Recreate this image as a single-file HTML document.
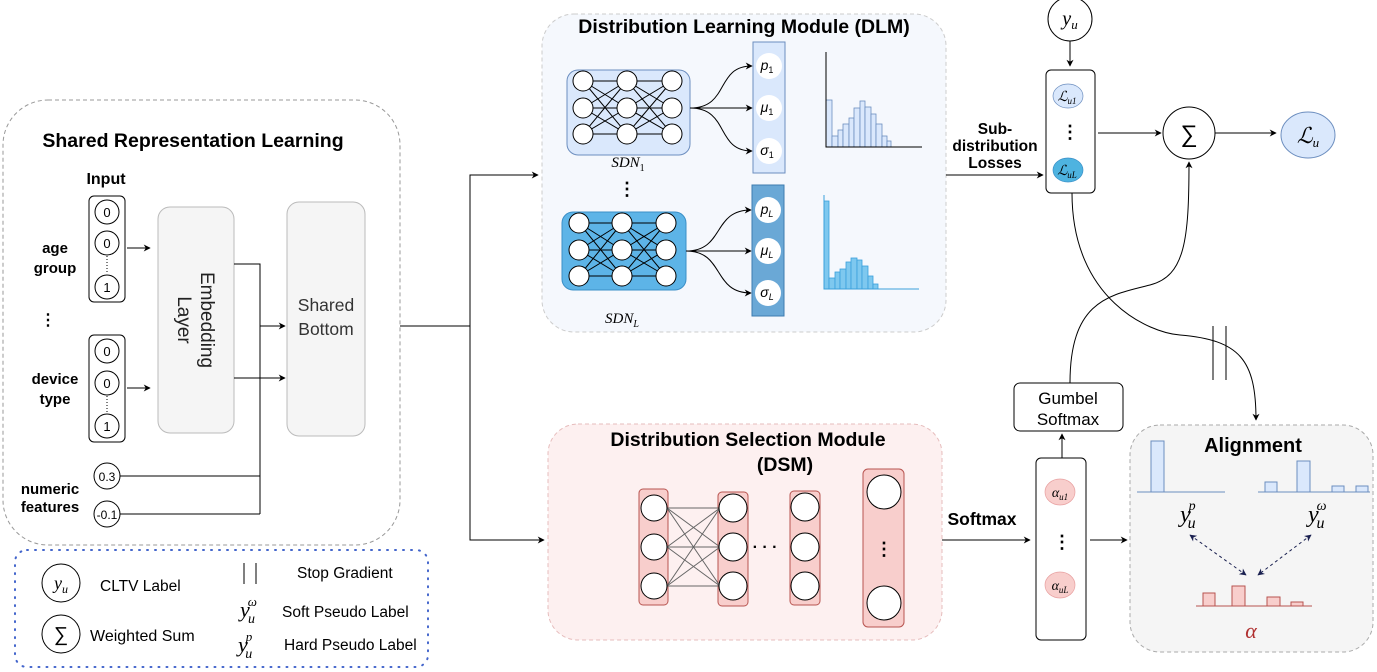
<!DOCTYPE html>
<html><head><meta charset="utf-8"><style>
html,body{margin:0;padding:0;background:#fff}
svg{display:block}
text{font-family:"Liberation Sans",sans-serif}
.b{font-weight:bold}
.m{font-family:"Liberation Serif",serif;font-style:italic}
</style></head><body>
<svg width="1377" height="672" viewBox="0 0 1377 672" xmlns="http://www.w3.org/2000/svg">
<defs>
<marker id="a" viewBox="0 0 10 10" refX="9" refY="5" markerWidth="7" markerHeight="7" orient="auto"><path d="M0,0 L10,5 L0,10 L3,5z" fill="#000"/></marker>
<marker id="d" viewBox="0 0 10 10" refX="9" refY="5" markerWidth="7" markerHeight="7" orient="auto-start-reverse"><path d="M0,0 L10,5 L0,10 L3,5z" fill="#1a2050"/></marker>
</defs>

<!-- Shared Representation -->
<rect x="3" y="100" width="397" height="445" rx="45" fill="#fff" stroke="#999" stroke-dasharray="4,3"/>
<text x="193" y="147" font-size="19.5" class="b" text-anchor="middle">Shared Representation Learning</text>
<text x="106" y="184" font-size="16" class="b" text-anchor="middle">Input</text>
<rect x="89" y="196" width="36" height="106" rx="5" fill="#fff" stroke="#000"/>
<g fill="#fff" stroke="#000"><circle cx="107" cy="212" r="12"/><circle cx="107" cy="243" r="12"/><circle cx="107" cy="287" r="12"/></g>
<line x1="107" y1="256" x2="107" y2="274" stroke="#000" stroke-dasharray="1,2"/>
<g font-size="13" text-anchor="middle"><text x="107" y="217">0</text><text x="107" y="248">0</text><text x="107" y="292">1</text></g>
<text x="55" y="253" font-size="15" class="b" text-anchor="middle">age</text>
<text x="55" y="273" font-size="15" class="b" text-anchor="middle">group</text>
<text x="48" y="325" font-size="16" class="b" text-anchor="middle">⋮</text>
<rect x="89" y="335" width="36" height="107" rx="5" fill="#fff" stroke="#000"/>
<g fill="#fff" stroke="#000"><circle cx="107" cy="351" r="12"/><circle cx="107" cy="383" r="12"/><circle cx="107" cy="426" r="12"/></g>
<line x1="107" y1="396" x2="107" y2="413" stroke="#000" stroke-dasharray="1,2"/>
<g font-size="13" text-anchor="middle"><text x="107" y="356">0</text><text x="107" y="388">0</text><text x="107" y="431">1</text></g>
<text x="55" y="384" font-size="15" class="b" text-anchor="middle">device</text>
<text x="55" y="404" font-size="15" class="b" text-anchor="middle">type</text>
<line x1="127" y1="248" x2="150" y2="248" stroke="#000" marker-end="url(#a)"/>
<line x1="127" y1="388" x2="150" y2="388" stroke="#000" marker-end="url(#a)"/>
<rect x="158" y="207" width="76" height="226" rx="12" fill="#f5f5f5" stroke="#bbb"/>
<text transform="translate(196,320) rotate(90)" font-size="19" text-anchor="middle" fill="#222"><tspan x="0" y="-5">Embedding</tspan><tspan x="0" y="18">Layer</tspan></text>
<rect x="287" y="202" width="78" height="234" rx="12" fill="#f5f5f5" stroke="#bbb"/>
<text x="326" y="311" font-size="17.5" text-anchor="middle" fill="#333">Shared</text>
<text x="326" y="335" font-size="17.5" text-anchor="middle" fill="#333">Bottom</text>
<polyline points="234,264 260,264 260,514" fill="none" stroke="#000"/>
<line x1="260" y1="326" x2="285" y2="326" stroke="#000" marker-end="url(#a)"/>
<line x1="234" y1="378" x2="285" y2="378" stroke="#000" marker-end="url(#a)"/>
<g fill="#fff" stroke="#000"><circle cx="107" cy="476" r="13"/><circle cx="107" cy="514" r="13"/></g>
<g font-size="12" text-anchor="middle"><text x="107" y="481">0.3</text><text x="107" y="519">-0.1</text></g>
<line x1="120" y1="476" x2="260" y2="476" stroke="#000"/>
<line x1="120" y1="514" x2="260" y2="514" stroke="#000"/>
<text x="50" y="494" font-size="15" class="b" text-anchor="middle">numeric</text>
<text x="50" y="512" font-size="15" class="b" text-anchor="middle">features</text>
<polyline points="400,326 470,326" fill="none" stroke="#000"/>
<polyline points="470,326 470,175 538,175" fill="none" stroke="#000" marker-end="url(#a)"/>
<polyline points="470,326 470,540 544,540" fill="none" stroke="#000" marker-end="url(#a)"/>

<!-- Legend -->
<rect x="15" y="550" width="413" height="117" rx="12" fill="#fff" stroke="#4466cc" stroke-width="2" stroke-dasharray="1,7" stroke-linecap="round"/>
<circle cx="61" cy="583" r="19" fill="#fff" stroke="#000"/>
<text x="61" y="589" font-size="18" class="m" text-anchor="middle">y<tspan font-size="12" dy="4">u</tspan></text>
<text x="100" y="591" font-size="15.5">CLTV Label</text>
<circle cx="61" cy="634" r="19" fill="#fff" stroke="#000"/>
<text x="61" y="641" font-size="20" text-anchor="middle">∑</text>
<text x="90" y="641" font-size="16">Weighted Sum</text>
<line x1="244" y1="563" x2="244" y2="584" stroke="#000"/><line x1="256" y1="563" x2="256" y2="584" stroke="#000"/>
<text x="297" y="578" font-size="15.5">Stop Gradient</text>
<text x="240" y="617" font-size="22" class="m">y<tspan font-size="13" dx="-2" dy="-11">ω</tspan><tspan font-size="14" dx="-9" dy="17">u</tspan></text>
<text x="282" y="617" font-size="15.5">Soft Pseudo Label</text>
<text x="238" y="652" font-size="22" class="m">y<tspan font-size="13" dx="-2" dy="-11">p</tspan><tspan font-size="14" dx="-7" dy="17">u</tspan></text>
<text x="284" y="650" font-size="15.5">Hard Pseudo Label</text>

<!-- DLM -->
<rect x="542" y="14" width="404" height="318" rx="32" fill="#f5f8fd" stroke="#ccc" stroke-dasharray="4,3"/>
<text x="744" y="33" font-size="19.5" class="b" text-anchor="middle">Distribution Learning Module (DLM)</text>
<rect x="567" y="70" width="123" height="85" rx="11" fill="#dae8fc" stroke="#6c8ebf"/>
<g stroke="#000" stroke-width="1">
<path d="M583,81 L627,81 M583,81 L627,108 M583,81 L627,134 M583,108 L627,81 M583,108 L627,108 M583,108 L627,134 M583,134 L627,81 M583,134 L627,108 M583,134 L627,134"/>
<path d="M627,81 L672,81 M627,81 L672,108 M627,81 L672,134 M627,108 L672,81 M627,108 L672,108 M627,108 L672,134 M627,134 L672,81 M627,134 L672,108 M627,134 L672,134"/>
</g>
<g fill="#fff" stroke="#000"><circle cx="583" cy="81" r="10"/><circle cx="583" cy="108" r="10"/><circle cx="583" cy="134" r="10"/><circle cx="627" cy="81" r="10"/><circle cx="627" cy="108" r="10"/><circle cx="627" cy="134" r="10"/><circle cx="672" cy="81" r="10"/><circle cx="672" cy="108" r="10"/><circle cx="672" cy="134" r="10"/></g>
<text x="628" y="167" font-size="15" class="m" text-anchor="middle">SDN<tspan font-size="10" dy="4" font-style="normal">1</tspan></text>
<text x="627" y="195" font-size="18" class="b" text-anchor="middle">⋮</text>
<rect x="753" y="42" width="32" height="131" fill="#dae8fc" stroke="#6c8ebf"/>
<g fill="#fff"><circle cx="769" cy="66" r="13"/><circle cx="769" cy="108" r="13"/><circle cx="769" cy="151" r="13"/></g>
<g font-size="14" class="m" text-anchor="middle"><text x="767" y="70">p<tspan font-size="9" dy="3" font-style="normal">1</tspan></text><text x="767" y="112">μ<tspan font-size="9" dy="3" font-style="normal">1</tspan></text><text x="767" y="155">σ<tspan font-size="9" dy="3" font-style="normal">1</tspan></text></g>
<g fill="none" stroke="#000"><path d="M690,108 C730,108 715,66 752,66" marker-end="url(#a)"/><path d="M690,108 L752,108" marker-end="url(#a)"/><path d="M690,108 C730,108 715,151 752,151" marker-end="url(#a)"/></g>
<g fill="#dae8fc" stroke="#6c8ebf" stroke-width="0.8">
<rect x="826" y="100" width="6" height="47"/><rect x="832" y="136" width="6" height="11"/><rect x="838" y="130" width="5" height="17"/><rect x="843" y="124" width="6" height="23"/><rect x="849" y="118" width="5" height="29"/><rect x="854" y="108" width="6" height="39"/><rect x="860" y="101" width="5" height="46"/><rect x="865" y="107" width="6" height="40"/><rect x="871" y="114" width="5" height="33"/><rect x="876" y="124" width="6" height="23"/><rect x="882" y="136" width="5" height="11"/><rect x="887" y="141" width="4" height="6"/>
</g>
<polyline points="826,52 826,147 922,147" fill="none" stroke="#000"/>
<rect x="562" y="212" width="124" height="78" rx="11" fill="#5db4e7" stroke="#3a8fc7"/>
<g stroke="#000" stroke-width="1">
<path d="M579,223 L622,223 M579,223 L622,250 M579,223 L622,276 M579,250 L622,223 M579,250 L622,250 M579,250 L622,276 M579,276 L622,223 M579,276 L622,250 M579,276 L622,276"/>
<path d="M622,223 L666,223 M622,223 L666,250 M622,223 L666,276 M622,250 L666,223 M622,250 L666,250 M622,250 L666,276 M622,276 L666,223 M622,276 L666,250 M622,276 L666,276"/>
</g>
<g fill="#fff" stroke="#000"><circle cx="579" cy="223" r="10"/><circle cx="579" cy="250" r="10"/><circle cx="579" cy="276" r="10"/><circle cx="622" cy="223" r="10"/><circle cx="622" cy="250" r="10"/><circle cx="622" cy="276" r="10"/><circle cx="666" cy="223" r="10"/><circle cx="666" cy="250" r="10"/><circle cx="666" cy="276" r="10"/></g>
<text x="622" y="323" font-size="15" class="m" text-anchor="middle">SDN<tspan font-size="10" dy="4">L</tspan></text>
<rect x="752" y="185" width="32" height="131" fill="#6aa8d6" stroke="#3d7cb0"/>
<g fill="#fff"><circle cx="768" cy="210" r="13"/><circle cx="768" cy="251" r="13"/><circle cx="768" cy="293" r="13"/></g>
<g font-size="14" class="m" text-anchor="middle"><text x="767" y="214">p<tspan font-size="9" dy="3">L</tspan></text><text x="767" y="255">μ<tspan font-size="9" dy="3">L</tspan></text><text x="767" y="297">σ<tspan font-size="9" dy="3">L</tspan></text></g>
<g fill="none" stroke="#000"><path d="M686,251 C725,251 712,210 751,210" marker-end="url(#a)"/><path d="M686,251 L751,251" marker-end="url(#a)"/><path d="M686,251 C725,251 712,293 751,293" marker-end="url(#a)"/></g>
<g fill="#7ec8ef" stroke="#3aa0db" stroke-width="0.8">
<rect x="824" y="201" width="5" height="88"/><rect x="829" y="278" width="6" height="11"/><rect x="835" y="272" width="5" height="17"/><rect x="840" y="269" width="6" height="20"/><rect x="846" y="262" width="5" height="27"/><rect x="851" y="258" width="6" height="31"/><rect x="857" y="260" width="5" height="29"/><rect x="862" y="266" width="6" height="23"/><rect x="868" y="276" width="5" height="13"/><rect x="873" y="284" width="5" height="5"/>
</g>
<polyline points="824,195 824,289 919,289" fill="none" stroke="#3aa0db"/>

<!-- Loss column -->
<text x="995" y="134" font-size="15.5" class="b" text-anchor="middle">Sub-</text>
<text x="995" y="151" font-size="15.5" class="b" text-anchor="middle">distribution</text>
<text x="995" y="168" font-size="15.5" class="b" text-anchor="middle">Losses</text>
<line x1="946" y1="175" x2="1043" y2="175" stroke="#000" marker-end="url(#a)"/>
<circle cx="1070" cy="19" r="22" fill="#fff" stroke="#000"/>
<text x="1070" y="25" font-size="20" class="m" text-anchor="middle">y<tspan font-size="13" dy="4">u</tspan></text>
<line x1="1070" y1="41" x2="1070" y2="66" stroke="#000" marker-end="url(#a)"/>
<rect x="1046" y="70" width="49" height="123" rx="5" fill="#fff" stroke="#000"/>
<ellipse cx="1068" cy="96" rx="15" ry="12" fill="#dae8fc" stroke="#6c8ebf" stroke-width="0.7"/>
<text x="1067" y="101" font-size="14" class="m" text-anchor="middle">ℒ<tspan font-size="9" dy="3">u1</tspan></text>
<text x="1070" y="138" font-size="18" class="b" text-anchor="middle">⋮</text>
<ellipse cx="1068" cy="170" rx="15" ry="12" fill="#4eb3e0" stroke="#3a8fc7" stroke-width="0.7"/>
<text x="1067" y="175" font-size="14" class="m" text-anchor="middle">ℒ<tspan font-size="9" dy="3">uL</tspan></text>
<line x1="1098" y1="133" x2="1161" y2="133" stroke="#000" marker-end="url(#a)"/>
<circle cx="1189" cy="133" r="26" fill="#fff" stroke="#000"/>
<text x="1189" y="142" font-size="24" text-anchor="middle">∑</text>
<line x1="1215" y1="133" x2="1276" y2="133" stroke="#000" marker-end="url(#a)"/>
<ellipse cx="1308" cy="135" rx="27" ry="23" fill="#dae8fc" stroke="#6c8ebf"/>
<text x="1308" y="143" font-size="22" class="m" text-anchor="middle">ℒ<tspan font-size="13" dy="4">u</tspan></text>
<path d="M1072,193 C1072,300 1150,333 1180,335 C1240,340 1256,360 1256,420" fill="none" stroke="#000" marker-end="url(#a)"/>
<line x1="1213" y1="326" x2="1213" y2="380" stroke="#000"/><line x1="1226" y1="326" x2="1226" y2="380" stroke="#000"/>
<path d="M1070,383 C1070,300 1110,295 1150,285 C1185,276 1189,240 1189,162" fill="none" stroke="#000" marker-end="url(#a)"/>
<rect x="1014" y="383" width="109" height="48" rx="6" fill="#fff" stroke="#000"/>
<text x="1068" y="404" font-size="17" text-anchor="middle">Gumbel</text>
<text x="1068" y="425" font-size="17" text-anchor="middle">Softmax</text>
<line x1="1062" y1="458" x2="1062" y2="434" stroke="#000" marker-end="url(#a)"/>

<!-- DSM -->
<rect x="548" y="424" width="394" height="216" rx="30" fill="#fdf0f0" stroke="#e6bcbc" stroke-dasharray="4,3"/>
<text x="748" y="446" font-size="19.5" class="b" text-anchor="middle">Distribution Selection Module</text>
<text x="785" y="471" font-size="19.5" class="b" text-anchor="middle">(DSM)</text>
<rect x="639" y="489" width="29" height="116" rx="4" fill="#f8cecc" stroke="#b85450"/>
<rect x="718" y="492" width="30" height="114" rx="4" fill="#f8cecc" stroke="#b85450"/>
<rect x="790" y="491" width="30" height="114" rx="4" fill="#f8cecc" stroke="#b85450"/>
<rect x="863" y="469" width="41" height="158" rx="5" fill="#f8cecc" stroke="#b85450"/>
<g stroke="#666" stroke-width="1"><path d="M667,508 L720,508 M667,508 L720,547 M667,508 L720,586 M667,547 L720,508 M667,547 L720,547 M667,547 L720,586 M667,586 L720,508 M667,586 L720,547 M667,586 L720,586"/></g>
<g fill="#fff" stroke="#000"><circle cx="654" cy="508" r="13"/><circle cx="654" cy="547" r="13"/><circle cx="654" cy="586" r="13"/><circle cx="733" cy="508" r="14"/><circle cx="733" cy="547" r="14"/><circle cx="733" cy="586" r="14"/><circle cx="805" cy="507" r="14"/><circle cx="805" cy="547" r="14"/><circle cx="805" cy="586" r="14"/><circle cx="884" cy="492" r="17"/><circle cx="884" cy="603" r="17"/></g>
<text x="765" y="552" font-size="16" text-anchor="middle" class="b">· · ·</text>
<text x="884" y="555" font-size="18" class="b" text-anchor="middle">⋮</text>

<!-- Alpha column -->
<text x="982" y="525" font-size="17.5" class="b" text-anchor="middle">Softmax</text>
<line x1="942" y1="540" x2="1030" y2="540" stroke="#000" marker-end="url(#a)"/>
<rect x="1036" y="458" width="50" height="182" rx="5" fill="#fff" stroke="#000"/>
<ellipse cx="1060" cy="492" rx="15" ry="13" fill="#f8cecc" stroke="#e8a0a0" stroke-width="0.7"/>
<text x="1060" y="497" font-size="14" class="m" text-anchor="middle">α<tspan font-size="9" dy="3">u1</tspan></text>
<text x="1062" y="548" font-size="18" class="b" text-anchor="middle">⋮</text>
<ellipse cx="1060" cy="585" rx="15" ry="13" fill="#f8cecc" stroke="#e8a0a0" stroke-width="0.7"/>
<text x="1060" y="590" font-size="14" class="m" text-anchor="middle">α<tspan font-size="9" dy="3">uL</tspan></text>
<line x1="1090" y1="540" x2="1127" y2="540" stroke="#000" marker-end="url(#a)"/>

<!-- Alignment -->
<rect x="1130" y="425" width="243" height="227" rx="30" fill="#f5f5f5" stroke="#aaa" stroke-dasharray="4,3"/>
<text x="1253" y="452" font-size="20" class="b" text-anchor="middle">Alignment</text>
<g fill="#dae8fc" stroke="#6c8ebf"><rect x="1151" y="441" width="13" height="51"/><rect x="1265" y="482" width="12" height="10"/><rect x="1297" y="461" width="13" height="31"/><rect x="1332" y="486" width="12" height="6"/><rect x="1356" y="486" width="12" height="6"/></g>
<line x1="1137" y1="492" x2="1225" y2="492" stroke="#6c8ebf"/>
<line x1="1258" y1="492" x2="1370" y2="492" stroke="#6c8ebf"/>
<text x="1180" y="522" font-size="24" class="m">y<tspan font-size="14" dx="-2" dy="-12">p</tspan><tspan font-size="16" dx="-8" dy="18">u</tspan></text>
<text x="1308" y="522" font-size="24" class="m">y<tspan font-size="14" dx="-2" dy="-12">ω</tspan><tspan font-size="16" dx="-10" dy="18">u</tspan></text>
<g fill="#f8cecc" stroke="#b85450"><rect x="1203" y="593" width="12" height="13"/><rect x="1232" y="586" width="13" height="20"/><rect x="1267" y="597" width="13" height="9"/><rect x="1291" y="602" width="12" height="4"/></g>
<line x1="1196" y1="606" x2="1312" y2="606" stroke="#b85450"/>
<text x="1251" y="638" font-size="22" class="m" text-anchor="middle" fill="#b03030">α</text>
<line x1="1190" y1="535" x2="1246" y2="575" stroke="#1a2050" stroke-dasharray="3,3" marker-start="url(#d)" marker-end="url(#d)"/>
<line x1="1311" y1="535" x2="1258" y2="575" stroke="#1a2050" stroke-dasharray="3,3" marker-start="url(#d)" marker-end="url(#d)"/>
</svg>
</body></html>
